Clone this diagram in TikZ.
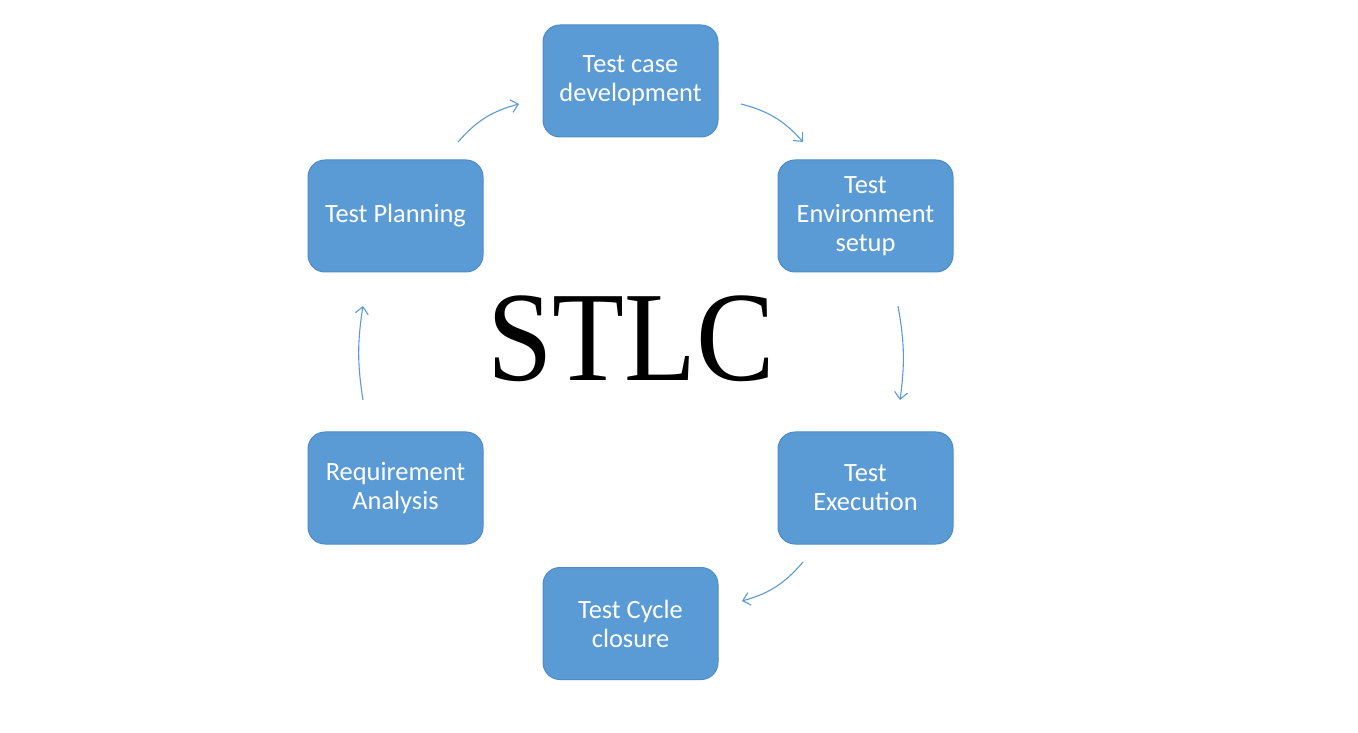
\documentclass[tikz,border=0pt]{standalone}
\usepackage{fontspec}
\setmainfont{Carlito}
\newfontfamily\stlcfont{Liberation Serif}
\usetikzlibrary{arrows.meta}
\definecolor{boxblue}{HTML}{5B9BD5}
\definecolor{boxedge}{HTML}{4D8BC6}
\definecolor{arrowblue}{HTML}{5B9BD5}
\begin{document}
\begin{tikzpicture}[x=1pt,y=1pt,
  stagebox/.style={draw=boxedge, line width=1pt, fill=boxblue, rounded corners=17pt,
    minimum width=175pt, minimum height=112pt, inner sep=0pt, text=white, align=center,
    font=\fontsize{26.4}{29}\selectfont},
  cyclearrow/.style={draw=arrowblue, line width=1.1pt,
    -{Straight Barb[length=7pt,width=13pt,line width=1.1pt]}}]
\useasboundingbox (0,0) rectangle (1358,732);
\node[stagebox] (tcd) at (630.5,651) {Test case\\development};
\node[stagebox] (env) at (865.5,516) {Test\\Environment\\setup};
\node[stagebox] (exe) at (865.5,244) {Test\\Execution};
\node[stagebox] (clo) at (630.5,108.5) {Test Cycle\\closure};
\node[stagebox] (req) at (395.5,244) {Requirement\\Analysis};
\node[stagebox] (pla) at (395.5,516) {Test Planning};
\node[anchor=base, inner sep=0pt, font=\stlcfont\fontsize{128}{128}\selectfont, xscale=0.92] (stlc) at (631,351) {STLC};
\coordinate (a1s) at (458,590); \coordinate (a1e) at (519,628);
\coordinate (a2s) at (741,628); \coordinate (a2e) at (803,590);
\coordinate (a3s) at (898,426); \coordinate (a3e) at (900,332);
\coordinate (a4s) at (803,170); \coordinate (a4e) at (742,131);
\coordinate (a5s) at (363,332); \coordinate (a5e) at (363,426);
\draw[cyclearrow] (a1s) to[bend left=17] (a1e);
\draw[cyclearrow] (a2s) to[bend left=17] (a2e);
\draw[cyclearrow] (a3s) to[bend left=9] (a3e);
\draw[cyclearrow] (a4s) to[bend left=17] (a4e);
\draw[cyclearrow] (a5s) to[bend left=9] (a5e);
\end{tikzpicture}
\end{document}
